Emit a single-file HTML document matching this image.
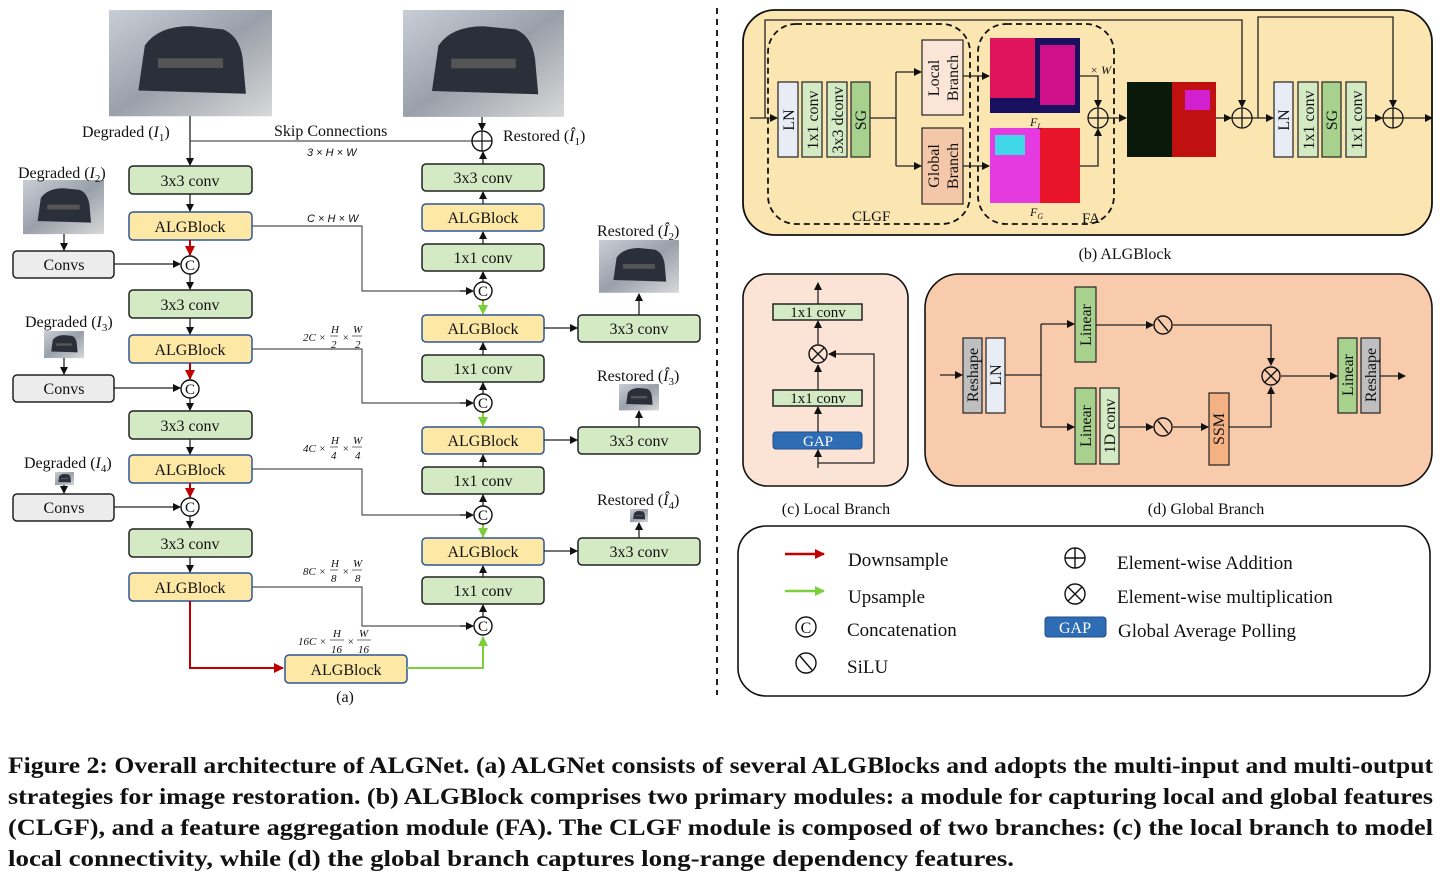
<!DOCTYPE html>
<html><head><meta charset="utf-8"><style>
html,body{margin:0;padding:0;background:#fff}
svg{display:block}
text{font-family:"Liberation Serif",serif;fill:#111}
.b{font-size:16px}
.s{font-size:11px;font-style:italic;font-family:"Liberation Sans",sans-serif}
.cap{font-size:23px;font-weight:bold}
.g{fill:#d3eac4;stroke:#222;stroke-width:1.5}
.y{fill:#fde8a6;stroke:#2f5597;stroke-width:1.5}
.gr{fill:#ececec;stroke:#222;stroke-width:1.5}
.l{fill:none;stroke:#555;stroke-width:1.2}
.k{fill:none;stroke:#222;stroke-width:1.3}
</style></head><body>
<svg width="1440" height="877" viewBox="0 0 1440 877" xmlns="http://www.w3.org/2000/svg">
<defs>
<marker id="a" markerWidth="8" markerHeight="8" refX="7" refY="4" orient="auto" markerUnits="userSpaceOnUse"><path d="M0,0L8,4L0,8z" fill="#111"/></marker>
<marker id="r" markerWidth="10" markerHeight="10" refX="9" refY="5" orient="auto" markerUnits="userSpaceOnUse"><path d="M0,0L10,5L0,10z" fill="#c00000"/></marker>
<marker id="gm" markerWidth="10" markerHeight="10" refX="9" refY="5" orient="auto" markerUnits="userSpaceOnUse"><path d="M0,0L10,5L0,10z" fill="#7ccf3a"/></marker>
<linearGradient id="car" x1="0" y1="0" x2="1" y2="1"><stop offset="0" stop-color="#c9ced6"/><stop offset="0.5" stop-color="#9aa0aa"/><stop offset="1" stop-color="#d8d8d8"/></linearGradient>
<g id="carimg"><rect width="100" height="66" fill="url(#car)"/><path d="M18,50 L22,22 Q30,10 50,10 L70,12 Q80,16 82,30 L84,52 Z" fill="#2b2f3a"/><rect x="30" y="30" width="40" height="6" fill="#555"/></g>
</defs>

<use href="#carimg" transform="translate(109,10) scale(1.63,1.61)"/>
<use href="#carimg" transform="translate(403,10) scale(1.61,1.62)"/>
<use href="#carimg" transform="translate(23,180) scale(0.81,0.82)"/>
<use href="#carimg" transform="translate(44,331) scale(0.4,0.41)"/>
<use href="#carimg" transform="translate(55,472) scale(0.19,0.2)"/>
<use href="#carimg" transform="translate(599,240) scale(0.8,0.8)"/>
<use href="#carimg" transform="translate(619,384) scale(0.4,0.4)"/>
<use href="#carimg" transform="translate(630,509) scale(0.18,0.2)"/>

<text x="82" y="137" class="b">Degraded (<tspan font-style="italic">I</tspan><tspan font-size="11" dy="4">1</tspan><tspan dy="-4">)</tspan></text>
<text x="274" y="136" class="b">Skip Connections</text>
<text x="307" y="156" class="s">3 × H × W</text>
<text x="503" y="141" class="b">Restored (<tspan font-style="italic">Î</tspan><tspan font-size="11" dy="4">1</tspan><tspan dy="-4">)</tspan></text>
<line x1="190" y1="116" x2="190" y2="165" class="k" marker-end="url(#a)"/>
<polyline points="190,141 472,141" class="l"/>
<line x1="482" y1="117" x2="482" y2="130" class="k" marker-end="url(#a)"/>
<circle cx="482" cy="141" r="10" fill="#fff" stroke="#111" stroke-width="1.4"/><path d="M472,141H492M482,131V151" stroke="#111" stroke-width="1.2"/>

<g class="b" text-anchor="middle">
<rect x="129" y="166" width="123" height="28" rx="4" class="g"/><text x="190" y="186">3x3 conv</text>
<rect x="129" y="212" width="123" height="28" rx="4" class="y"/><text x="190" y="232">ALGBlock</text>
<rect x="129" y="290" width="123" height="28" rx="4" class="g"/><text x="190" y="310">3x3 conv</text>
<rect x="129" y="335" width="123" height="28" rx="4" class="y"/><text x="190" y="355">ALGBlock</text>
<rect x="129" y="411" width="123" height="28" rx="4" class="g"/><text x="190" y="431">3x3 conv</text>
<rect x="129" y="455" width="123" height="28" rx="4" class="y"/><text x="190" y="475">ALGBlock</text>
<rect x="129" y="529" width="123" height="28" rx="4" class="g"/><text x="190" y="549">3x3 conv</text>
<rect x="129" y="573" width="123" height="28" rx="4" class="y"/><text x="190" y="593">ALGBlock</text>
<rect x="285" y="655" width="122" height="28" rx="4" class="y"/><text x="346" y="675">ALGBlock</text>
<rect x="13" y="251" width="101" height="27" rx="4" class="gr"/><text x="64" y="270">Convs</text>
<rect x="13" y="375" width="101" height="27" rx="4" class="gr"/><text x="64" y="394">Convs</text>
<rect x="13" y="494" width="101" height="27" rx="4" class="gr"/><text x="64" y="513">Convs</text>
<rect x="422" y="164" width="122" height="27" rx="4" class="g"/><text x="483" y="183">3x3 conv</text>
<rect x="422" y="204" width="122" height="27" rx="4" class="y"/><text x="483" y="223">ALGBlock</text>
<rect x="422" y="244" width="122" height="27" rx="4" class="g"/><text x="483" y="263">1x1 conv</text>
<rect x="422" y="315" width="122" height="27" rx="4" class="y"/><text x="483" y="334">ALGBlock</text>
<rect x="422" y="355" width="122" height="27" rx="4" class="g"/><text x="483" y="374">1x1 conv</text>
<rect x="422" y="427" width="122" height="27" rx="4" class="y"/><text x="483" y="446">ALGBlock</text>
<rect x="422" y="467" width="122" height="27" rx="4" class="g"/><text x="483" y="486">1x1 conv</text>
<rect x="422" y="538" width="122" height="27" rx="4" class="y"/><text x="483" y="557">ALGBlock</text>
<rect x="422" y="577" width="122" height="27" rx="4" class="g"/><text x="483" y="596">1x1 conv</text>
<rect x="578" y="315" width="122" height="27" rx="4" class="g"/><text x="639" y="334">3x3 conv</text>
<rect x="578" y="427" width="122" height="27" rx="4" class="g"/><text x="639" y="446">3x3 conv</text>
<rect x="578" y="538" width="122" height="27" rx="4" class="g"/><text x="639" y="557">3x3 conv</text>
</g>
<text x="18" y="178" class="b">Degraded (<tspan font-style="italic">I</tspan><tspan font-size="11" dy="4">2</tspan><tspan dy="-4">)</tspan></text>
<text x="25" y="327" class="b">Degraded (<tspan font-style="italic">I</tspan><tspan font-size="11" dy="4">3</tspan><tspan dy="-4">)</tspan></text>
<text x="24" y="468" class="b">Degraded (<tspan font-style="italic">I</tspan><tspan font-size="11" dy="4">4</tspan><tspan dy="-4">)</tspan></text>
<text x="597" y="236" class="b">Restored (<tspan font-style="italic">Î</tspan><tspan font-size="11" dy="4">2</tspan><tspan dy="-4">)</tspan></text>
<text x="597" y="381" class="b">Restored (<tspan font-style="italic">Î</tspan><tspan font-size="11" dy="4">3</tspan><tspan dy="-4">)</tspan></text>
<text x="597" y="505" class="b">Restored (<tspan font-style="italic">Î</tspan><tspan font-size="11" dy="4">4</tspan><tspan dy="-4">)</tspan></text>

<g class="k">
<line x1="190" y1="194" x2="190" y2="211" marker-end="url(#a)"/>
<line x1="190" y1="274" x2="190" y2="289" marker-end="url(#a)"/>
<line x1="190" y1="318" x2="190" y2="334" marker-end="url(#a)"/>
<line x1="190" y1="398" x2="190" y2="410" marker-end="url(#a)"/>
<line x1="190" y1="439" x2="190" y2="454" marker-end="url(#a)"/>
<line x1="190" y1="516" x2="190" y2="528" marker-end="url(#a)"/>
<line x1="190" y1="557" x2="190" y2="572" marker-end="url(#a)"/>
<line x1="64" y1="234" x2="64" y2="250" marker-end="url(#a)"/>
<line x1="64" y1="358" x2="64" y2="374" marker-end="url(#a)"/>
<line x1="64" y1="485" x2="64" y2="493" marker-end="url(#a)"/>
<line x1="114" y1="264" x2="180" y2="264" marker-end="url(#a)"/>
<line x1="114" y1="388" x2="180" y2="388" marker-end="url(#a)"/>
<line x1="114" y1="507" x2="180" y2="507" marker-end="url(#a)"/>
<line x1="483" y1="204" x2="483" y2="192" marker-end="url(#a)"/>
<line x1="483" y1="244" x2="483" y2="232" marker-end="url(#a)"/>
<line x1="483" y1="282" x2="483" y2="272" marker-end="url(#a)"/>
<line x1="483" y1="394" x2="483" y2="383" marker-end="url(#a)"/>
<line x1="483" y1="506" x2="483" y2="495" marker-end="url(#a)"/>
<line x1="483" y1="617" x2="483" y2="605" marker-end="url(#a)"/>
<line x1="483" y1="355" x2="483" y2="343" marker-end="url(#a)"/>
<line x1="483" y1="467" x2="483" y2="455" marker-end="url(#a)"/>
<line x1="483" y1="577" x2="483" y2="566" marker-end="url(#a)"/>
<line x1="483" y1="164" x2="483" y2="152" marker-end="url(#a)"/>
<line x1="544" y1="328" x2="577" y2="328" marker-end="url(#a)"/>
<line x1="544" y1="440" x2="577" y2="440" marker-end="url(#a)"/>
<line x1="544" y1="551" x2="577" y2="551" marker-end="url(#a)"/>
<line x1="639" y1="315" x2="639" y2="294" marker-end="url(#a)"/>
<line x1="639" y1="427" x2="639" y2="411" marker-end="url(#a)"/>
<line x1="639" y1="538" x2="639" y2="523" marker-end="url(#a)"/>
</g>
<g stroke="#c00000" stroke-width="2" fill="none">
<line x1="190" y1="240" x2="190" y2="255" marker-end="url(#r)"/>
<line x1="190" y1="363" x2="190" y2="379" marker-end="url(#r)"/>
<line x1="190" y1="483" x2="190" y2="497" marker-end="url(#r)"/>
<polyline points="190,601 190,668 283,668" marker-end="url(#r)"/>
</g>
<g stroke="#7ccf3a" stroke-width="2" fill="none">
<line x1="483" y1="300" x2="483" y2="314" marker-end="url(#gm)"/>
<line x1="483" y1="412" x2="483" y2="426" marker-end="url(#gm)"/>
<line x1="483" y1="524" x2="483" y2="537" marker-end="url(#gm)"/>
<polyline points="407,668 483,668 483,637" marker-end="url(#gm)"/>
</g>
<g class="l">
<polyline points="252,226 362,226 362,291 472,291"/>
<polyline points="252,349 362,349 362,403 472,403"/>
<polyline points="252,469 362,469 362,515 472,515"/>
<polyline points="252,587 362,587 362,626 472,626"/>
</g>
<g class="k"><line x1="460" y1="291" x2="473" y2="291" marker-end="url(#a)"/><line x1="460" y1="403" x2="473" y2="403" marker-end="url(#a)"/><line x1="460" y1="515" x2="473" y2="515" marker-end="url(#a)"/><line x1="460" y1="626" x2="473" y2="626" marker-end="url(#a)"/></g>
<text x="307" y="222" class="s">C × H × W</text>
<g class="s">
<text x="303" y="341">2C ×</text><text x="331" y="333">H</text><text x="331" y="348">2</text><text x="342" y="341">×</text><text x="353" y="333">W</text><text x="355" y="348">2</text>
<text x="303" y="452">4C ×</text><text x="331" y="444">H</text><text x="331" y="459">4</text><text x="342" y="452">×</text><text x="353" y="444">W</text><text x="355" y="459">4</text>
<text x="303" y="575">8C ×</text><text x="331" y="567">H</text><text x="331" y="582">8</text><text x="342" y="575">×</text><text x="353" y="567">W</text><text x="355" y="582">8</text>
<text x="298" y="645">16C ×</text><text x="333" y="637">H</text><text x="331" y="653">16</text><text x="347" y="645">×</text><text x="359" y="637">W</text><text x="358" y="653">16</text>
</g>
<g stroke="#333" stroke-width="0.7"><line x1="330" y1="336" x2="338" y2="336"/><line x1="352" y1="336" x2="362" y2="336"/><line x1="330" y1="447" x2="338" y2="447"/><line x1="352" y1="447" x2="362" y2="447"/><line x1="330" y1="570" x2="338" y2="570"/><line x1="352" y1="570" x2="362" y2="570"/><line x1="330" y1="640" x2="344" y2="640"/><line x1="357" y1="640" x2="371" y2="640"/></g>
<g fill="#fff" stroke="#111" stroke-width="1.4">
<circle cx="190" cy="265" r="9"/><circle cx="190" cy="389" r="9"/><circle cx="190" cy="507" r="9"/>
<circle cx="483" cy="291" r="9"/><circle cx="483" cy="403" r="9"/><circle cx="483" cy="515" r="9"/><circle cx="483" cy="626" r="9"/>
</g>
<g font-size="15" text-anchor="middle"><text x="190" y="270">C</text><text x="190" y="394">C</text><text x="190" y="512">C</text><text x="483" y="296">C</text><text x="483" y="408">C</text><text x="483" y="520">C</text><text x="483" y="631">C</text></g>
<text x="345" y="702" class="b" text-anchor="middle" font-size="15">(a)</text>
<line x1="717" y1="8" x2="717" y2="695" stroke="#222" stroke-width="2" stroke-dasharray="6,5"/>

<rect x="743" y="10" width="689" height="225" rx="32" fill="#fbe6b1" stroke="#111" stroke-width="1.8"/>
<rect x="768" y="24" width="202" height="200" rx="28" fill="none" stroke="#111" stroke-width="1.8" stroke-dasharray="6,4"/>
<rect x="978" y="24" width="136" height="200" rx="28" fill="none" stroke="#111" stroke-width="1.8" stroke-dasharray="6,4"/>
<g stroke="#222" stroke-width="1.2">
<rect x="778" y="82" width="20" height="75" fill="#e8ecf4"/>
<rect x="802" y="82" width="20" height="75" fill="#d3eac4"/>
<rect x="827" y="82" width="20" height="75" fill="#d3eac4"/>
<rect x="851" y="82" width="19" height="75" fill="#a9d18e"/>
<rect x="922" y="40" width="41" height="75" fill="#fbe5d6"/>
<rect x="922" y="128" width="41" height="76" fill="#f4c7a8"/>
<rect x="1274" y="82" width="19" height="75" fill="#e8ecf4"/>
<rect x="1298" y="82" width="20" height="75" fill="#d3eac4"/>
<rect x="1322" y="82" width="19" height="75" fill="#a9d18e"/>
<rect x="1346" y="82" width="20" height="75" fill="#d3eac4"/>
</g>
<rect x="990" y="38" width="90" height="75" fill="#1a1060"/><rect x="990" y="38" width="45" height="60" fill="#e0145a"/><rect x="1040" y="45" width="35" height="60" fill="#d0108a"/>
<rect x="990" y="128" width="90" height="75" fill="#e53ae0"/><rect x="1040" y="128" width="40" height="75" fill="#e8142a"/><rect x="995" y="135" width="30" height="20" fill="#40d8e8"/>
<rect x="1127" y="82" width="89" height="75" fill="#c01010"/><rect x="1127" y="82" width="45" height="75" fill="#0a1a0a"/><rect x="1185" y="90" width="25" height="20" fill="#d020d0"/>
<g font-size="16" text-anchor="middle">
<text transform="translate(794,120) rotate(-90)">LN</text>
<text transform="translate(818,120) rotate(-90)">1x1 conv</text>
<text transform="translate(843,120) rotate(-90)">3x3 dconv</text>
<text transform="translate(866,120) rotate(-90)">SG</text>
<text transform="translate(939,78) rotate(-90)">Local</text>
<text transform="translate(958,78) rotate(-90)">Branch</text>
<text transform="translate(939,166) rotate(-90)">Global</text>
<text transform="translate(958,166) rotate(-90)">Branch</text>
<text transform="translate(1289,120) rotate(-90)">LN</text>
<text transform="translate(1314,120) rotate(-90)">1x1 conv</text>
<text transform="translate(1337,120) rotate(-90)">SG</text>
<text transform="translate(1362,120) rotate(-90)">1x1 conv</text>
</g>
<g class="k">
<polyline points="765,118 765,20 1242,20 1242,107" marker-end="url(#a)"/>
<polyline points="1258,118 1258,17 1393,17 1393,107" marker-end="url(#a)"/>
<line x1="750" y1="118" x2="777" y2="118" marker-end="url(#a)"/>
<polyline points="870,118 896,118"/>
<polyline points="896,72 896,166"/>
<line x1="896" y1="72" x2="921" y2="72" marker-end="url(#a)"/>
<line x1="896" y1="166" x2="921" y2="166" marker-end="url(#a)"/>
<line x1="963" y1="76" x2="989" y2="76" marker-end="url(#a)"/>
<line x1="963" y1="166" x2="989" y2="166" marker-end="url(#a)"/>
<polyline points="1080,76 1098,76 1098,107" marker-end="url(#a)"/>
<polyline points="1080,166 1098,166 1098,129" marker-end="url(#a)"/>
<line x1="1108" y1="118" x2="1126" y2="118" marker-end="url(#a)"/>
<line x1="1216" y1="118" x2="1231" y2="118" marker-end="url(#a)"/>
<line x1="1252" y1="118" x2="1273" y2="118" marker-end="url(#a)"/>
<line x1="1366" y1="118" x2="1382" y2="118" marker-end="url(#a)"/>
<line x1="1403" y1="118" x2="1432" y2="118" marker-end="url(#a)"/>
</g>
<g fill="none" stroke="#111" stroke-width="1.3">
<circle cx="1098" cy="118" r="10"/><path d="M1088,118H1108M1098,108V128"/>
<circle cx="1242" cy="118" r="10"/><path d="M1232,118H1252M1242,108V128"/>
<circle cx="1393" cy="118" r="10"/><path d="M1383,118H1403M1393,108V128"/>
</g>
<text x="1090" y="74" font-size="12" font-style="italic">× W</text>
<text x="1030" y="126" font-size="12" font-style="italic">F<tspan font-size="8" dy="3">L</tspan></text>
<text x="1030" y="216" font-size="12" font-style="italic">F<tspan font-size="8" dy="3">G</tspan></text>
<text x="852" y="221" font-size="15">CLGF</text>
<text x="1082" y="223" font-size="15">FA</text>
<text x="1125" y="259" font-size="16" text-anchor="middle">(b) ALGBlock</text>

<rect x="743" y="274" width="165" height="212" rx="24" fill="#fbe4d6" stroke="#111" stroke-width="1.6"/>
<rect x="773" y="304" width="89" height="16" fill="#d3eac4" stroke="#222" stroke-width="1.5"/>
<rect x="773" y="390" width="89" height="16" fill="#d3eac4" stroke="#222" stroke-width="1.5"/>
<rect x="773" y="432" width="89" height="17" rx="3" fill="#2e6db4" stroke="#1f4e8a"/>
<g font-size="15" text-anchor="middle"><text x="818" y="317">1x1 conv</text><text x="818" y="403">1x1 conv</text><text x="818" y="446" style="fill:#fff">GAP</text></g>
<g class="k">
<line x1="818" y1="304" x2="818" y2="283" marker-end="url(#a)"/>
<line x1="818" y1="344" x2="818" y2="321" marker-end="url(#a)"/>
<line x1="818" y1="390" x2="818" y2="365" marker-end="url(#a)"/>
<line x1="818" y1="432" x2="818" y2="407" marker-end="url(#a)"/>
<line x1="818" y1="468" x2="818" y2="450" marker-end="url(#a)"/>
<polyline points="818,463 874,463 874,354 829,354" marker-end="url(#a)"/>
</g>
<circle cx="818" cy="354" r="9" fill="none" stroke="#111" stroke-width="1.4"/><path d="M812,348L824,360M824,348L812,360" stroke="#111" stroke-width="1.4"/>
<text x="836" y="514" font-size="16" text-anchor="middle">(c) Local Branch</text>

<rect x="925" y="274" width="507" height="212" rx="34" fill="#f8cbad" stroke="#111" stroke-width="1.6"/>
<g stroke="#222" stroke-width="1.2">
<rect x="963" y="338" width="19" height="75" fill="#bfbfbf"/>
<rect x="986" y="338" width="19" height="75" fill="#e8ecf4"/>
<rect x="1075" y="287" width="21" height="75" fill="#a9d18e"/>
<rect x="1075" y="388" width="21" height="76" fill="#a9d18e"/>
<rect x="1100" y="388" width="19" height="76" fill="#d3eac4"/>
<rect x="1209" y="393" width="20" height="72" fill="#f4b183"/>
<rect x="1338" y="338" width="19" height="75" fill="#a9d18e"/>
<rect x="1361" y="338" width="19" height="75" fill="#bfbfbf"/>
</g>
<g font-size="16" text-anchor="middle">
<text transform="translate(978,375) rotate(-90)">Reshape</text>
<text transform="translate(1001,375) rotate(-90)">LN</text>
<text transform="translate(1091,325) rotate(-90)">Linear</text>
<text transform="translate(1091,426) rotate(-90)">Linear</text>
<text transform="translate(1115,426) rotate(-90)">1D conv</text>
<text transform="translate(1224,429) rotate(-90)">SSM</text>
<text transform="translate(1353,375) rotate(-90)">Linear</text>
<text transform="translate(1376,375) rotate(-90)">Reshape</text>
</g>
<g class="k">
<line x1="940" y1="375" x2="962" y2="375" marker-end="url(#a)"/>
<polyline points="1005,375 1041,375 1041,324"/>
<polyline points="1041,375 1041,427"/>
<line x1="1041" y1="324" x2="1074" y2="324" marker-end="url(#a)"/>
<line x1="1041" y1="427" x2="1074" y2="427" marker-end="url(#a)"/>
<line x1="1096" y1="325" x2="1153" y2="325" marker-end="url(#a)"/>
<line x1="1119" y1="427" x2="1153" y2="427" marker-end="url(#a)"/>
<line x1="1173" y1="427" x2="1208" y2="427" marker-end="url(#a)"/>
<polyline points="1173,325 1271,325 1271,365" marker-end="url(#a)"/>
<polyline points="1229,427 1271,427 1271,387" marker-end="url(#a)"/>
<line x1="1281" y1="376" x2="1337" y2="376" marker-end="url(#a)"/>
<line x1="1380" y1="376" x2="1405" y2="376" marker-end="url(#a)"/>
</g>
<g fill="none" stroke="#111" stroke-width="1.4">
<circle cx="1163" cy="325" r="9"/><path d="M1158,319L1168,331"/>
<circle cx="1163" cy="427" r="9"/><path d="M1158,421L1168,433"/>
<circle cx="1271" cy="376" r="9"/><path d="M1265,370L1277,382M1277,370L1265,382"/>
</g>
<text x="1206" y="514" font-size="16" text-anchor="middle">(d) Global Branch</text>

<rect x="738" y="526" width="692" height="170" rx="28" fill="#fff" stroke="#111" stroke-width="1.6"/>
<line x1="785" y1="554" x2="824" y2="554" stroke="#c00000" stroke-width="2.5" marker-end="url(#r)"/>
<line x1="785" y1="591" x2="824" y2="591" stroke="#7ccf3a" stroke-width="2.5" marker-end="url(#gm)"/>
<g fill="none" stroke="#111" stroke-width="1.4">
<circle cx="806" cy="627" r="10"/>
<circle cx="806" cy="663" r="10"/><path d="M800,656L812,670"/>
<circle cx="1075" cy="558" r="10"/><path d="M1065,558H1085M1075,548V568"/>
<circle cx="1075" cy="594" r="10"/><path d="M1068,587L1082,601M1082,587L1068,601"/>
</g>
<text x="806" y="633" font-size="16" text-anchor="middle">C</text>
<rect x="1045" y="617" width="61" height="20" rx="3" fill="#2e6db4" stroke="#1f4e8a"/>
<text x="1075" y="633" font-size="16" text-anchor="middle" style="fill:#fff">GAP</text>
<g font-size="19">
<text x="848" y="566">Downsample</text>
<text x="848" y="603">Upsample</text>
<text x="847" y="636">Concatenation</text>
<text x="847" y="673">SiLU</text>
<text x="1117" y="569">Element-wise Addition</text>
<text x="1117" y="603">Element-wise multiplication</text>
<text x="1118" y="637">Global Average Polling</text>
</g>

<text x="8" y="773" class="cap" textLength="1425" lengthAdjust="spacingAndGlyphs">Figure 2: Overall architecture of ALGNet. (a) ALGNet consists of several ALGBlocks and adopts the multi-input and multi-output</text>
<text x="8" y="804" class="cap" textLength="1425" lengthAdjust="spacingAndGlyphs">strategies for image restoration. (b) ALGBlock comprises two primary modules: a module for capturing local and global features</text>
<text x="8" y="835" class="cap" textLength="1425" lengthAdjust="spacingAndGlyphs">(CLGF), and a feature aggregation module (FA). The CLGF module is composed of two branches: (c) the local branch to model</text>
<text x="8" y="866" class="cap" textLength="1006" lengthAdjust="spacingAndGlyphs">local connectivity, while (d) the global branch captures long-range dependency features.</text>
</svg>
</body></html>
